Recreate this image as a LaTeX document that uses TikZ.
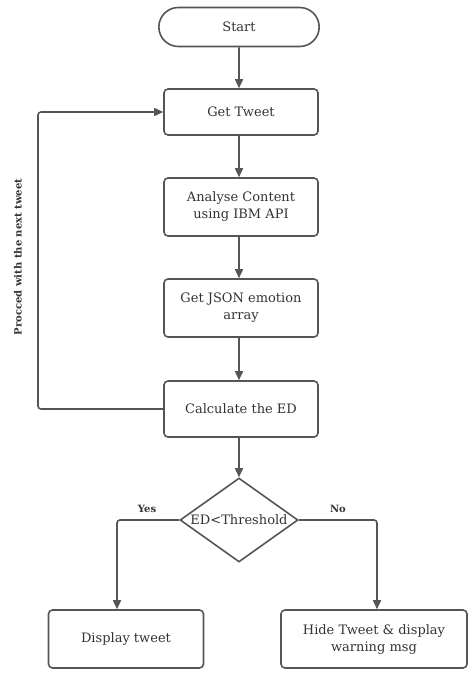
\documentclass[tikz,border=0pt]{standalone}
\usepackage{fontspec}
\setmainfont{DejaVu Serif}
\usetikzlibrary{shapes.geometric,shapes.misc,arrows.meta,calc}
\definecolor{ln}{HTML}{555555}
\definecolor{tx}{HTML}{333333}
\begin{document}
\begin{tikzpicture}[x=1pt,y=-1pt,
  every node/.style={text=tx,font=\fontsize{13}{17}\selectfont},
  proc/.style={draw=ln,line width=1.6pt,rounded corners=4pt,minimum width=154pt,minimum height=56pt,align=center,inner sep=2pt},
  term/.style={draw=ln,line width=1.6pt,rounded rectangle,minimum width=167pt,minimum height=39pt},
  dec/.style={draw=ln,line width=1.6pt,diamond,aspect=1.42,minimum width=118pt,minimum height=84pt,inner sep=0pt},
  conn/.style={draw=ln,line width=1.6pt,-{Triangle[length=9pt,width=8pt]},rounded corners=3pt},
  lab/.style={font=\fontsize{10}{12}\selectfont\bfseries}
]
\useasboundingbox (0,0) rectangle (474,676);
\node[term] (start) at (239,27) {Start};
\node[proc,minimum height=46pt] (get) at (241,112) {Get Tweet};
\node[proc,minimum height=58pt] (ana) at (241,207) {Analyse Content\\using IBM API};
\node[proc,minimum height=58pt] (json) at (241,308) {Get JSON emotion\\array};
\node[proc] (calc) at (241,409) {Calculate the ED};
\node[dec] (d) at (239,520) {ED<Threshold};
\node[proc,minimum height=58pt,minimum width=155pt] (disp) at (126,639) {Display tweet};
\node[proc,minimum height=58pt,minimum width=186pt] (hide) at (374,639) {Hide Tweet \& display\\warning msg};
\coordinate (yc) at (117,520);
\coordinate (nc) at (377,520);
\coordinate (lb) at (38,409);
\coordinate (lt) at (38,112);
\draw[conn] (start) -- (start |- get.north);
\draw[conn] (get.south -| 239,0) -- (ana.north -| 239,0);
\draw[conn] (ana.south -| 239,0) -- (json.north -| 239,0);
\draw[conn] (json.south -| 239,0) -- (calc.north -| 239,0);
\draw[conn] (calc.south -| d) -- (d.north);
\draw[conn] (d.west) -- (yc) -- (yc |- disp.north);
\draw[conn] (d.east) -- (nc) -- (nc |- hide.north);
\draw[conn] (calc.west) -- (lb) -- (lt) -- (get.west);
\node[lab] (yes) at (147,509) {Yes};
\node[lab] (no) at (338,509) {No};
\node[lab,rotate=90] (pn) at (18,257) {Procced with the next tweet};
\end{tikzpicture}
\end{document}
